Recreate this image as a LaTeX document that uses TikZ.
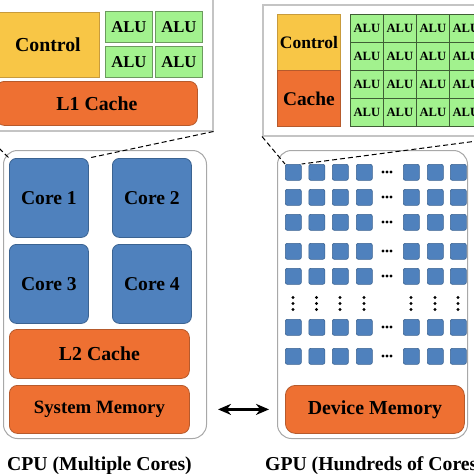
\documentclass[tikz,border=0pt]{standalone}
\usepackage{fontspec}
\setmainfont{Liberation Serif}
\usetikzlibrary{positioning,arrows.meta}

\definecolor{ctrlyellow}{HTML}{F8C646}
\definecolor{ctrledge}{HTML}{C89B3C}
\definecolor{cacheorange}{HTML}{EE7032}
\definecolor{cacheedge}{HTML}{B65A2C}
\definecolor{coreblue}{HTML}{4F81BD}
\definecolor{coreedge}{HTML}{3B6391}
\definecolor{alugreen}{HTML}{A2F28E}
\definecolor{aluedge}{HTML}{6C9A5E}
\definecolor{gridedge}{HTML}{3F5E35}
\definecolor{framegray}{HTML}{A8A8A8}
\definecolor{zoomgray}{HTML}{C4C4C4}

\begin{document}
\begin{tikzpicture}[x=1pt,y=-1pt,
  every node/.style={inner sep=0pt, anchor=north west, font=\bfseries},
  zoombox/.style={draw=zoomgray, line width=1.5pt, fill=white},
  chip/.style={draw=framegray, line width=1pt, fill=white, rounded corners=14pt},
  ctrl/.style={draw=ctrledge, line width=0.8pt, fill=ctrlyellow},
  cache/.style={draw=cacheedge, line width=0.8pt, fill=cacheorange},
  alu/.style={draw=aluedge, line width=0.8pt, fill=alugreen,
    minimum width=47, minimum height=31, font=\bfseries\fontsize{16.6}{17}\selectfont},
  gpualu/.style={draw=gridedge, line width=0.6pt, fill=alugreen,
    minimum width=33, minimum height=28, font=\bfseries\fontsize{12.6}{13}\selectfont},
  core/.style={draw=coreedge, line width=0.8pt, fill=coreblue, rounded corners=7pt,
    minimum width=79, minimum height=79, font=\bfseries\fontsize{19.6}{20}\selectfont},
  tinycore/.style={draw=coreedge, line width=0.6pt, fill=coreblue, rounded corners=2pt,
    minimum width=16, minimum height=16},
  zoomline/.style={dashed, dash pattern=on 5pt off 3pt, line width=1pt},
  dot/.style={fill=black, circle, minimum size=3.2pt, anchor=center},
  caption/.style={font=\bfseries\fontsize{19.7}{20}\selectfont, anchor=base}]

\useasboundingbox (0,0) rectangle (474,474);
\clip (0,0) rectangle (474,474);
\fill[white] (0,0) rectangle (474,474);

% CPU: zoomed core
\node[zoombox, minimum width=230, minimum height=150] (cpuzoom) at (-18,-20) {};
\node[ctrl, minimum width=103, minimum height=65, font=\bfseries\fontsize{19.8}{20}\selectfont]
  (cpuctrl) at (-4,12) {Control};
\foreach \r/\y in {1/11,2/46}
  \foreach \c/\x in {1/105,2/155}
    \node[alu] (cpualu-\r-\c) at (\x,\y) {ALU};
\node[cache, rounded corners=8pt, minimum width=201, minimum height=44,
  font=\bfseries\fontsize{19.8}{20}\selectfont] (l1) at (-4,81) {L1 Cache};

% CPU chip
\node[chip, minimum width=203, minimum height=288] (cpu) at (3,150) {};
\node[core] (core1) at (9,158) {Core 1};
\node[core] (core2) at (112,158) {Core 2};
\node[core] (core3) at (9,244) {Core 3};
\node[core] (core4) at (112,244) {Core 4};
\node[cache, rounded corners=8pt, minimum width=180, minimum height=49,
  font=\bfseries\fontsize{19.8}{20}\selectfont] (l2) at (9,329) {L2 Cache};
\node[cache, rounded corners=8pt, minimum width=180, minimum height=48,
  font=\bfseries\fontsize{18.8}{19}\selectfont] (sysmem) at (9,385) {System Memory};
\node[caption] (cpulabel) at (99.5,470) {CPU (Multiple Cores)};

\draw[zoomline] (cpuzoom.south west) -- (core1.north west);
\draw[zoomline] (cpuzoom.south east) -- (core1.north east);

% GPU: zoomed streaming multiprocessor
\node[zoombox, minimum width=248, minimum height=131] (gpuzoom) at (262,4) {};
\node[ctrl, minimum width=63, minimum height=56, font=\bfseries\fontsize{17.5}{18}\selectfont]
  (gpuctrl) at (277,14) {Control};
\node[cache, minimum width=63, minimum height=56, font=\bfseries\fontsize{19.4}{20}\selectfont]
  (gpucache) at (277,70) {Cache};
\foreach \r/\y in {1/14,2/42,3/70,4/98}
  \foreach \c/\x in {1/350,2/383,3/416,4/449}
    \node[gpualu] (gpualu-\r-\c) at (\x,\y) {ALU};

% GPU chip
\node[chip, minimum width=190, minimum height=288] (gpu) at (277,150) {};
\foreach \r/\y in {1/164,2/189,3/214,4/243,5/268,6/319,7/348} {
  \foreach \c/\x in {1/285,2/308.5,3/332,4/356,5/403,6/427,7/450}
    \node[tinycore] (gcore-\r-\c) at (\x,\y) {};
  \foreach \dx in {-4,0,4}
    \node[dot] at (387+\dx,\y+8) {};
}
\foreach \x in {285,308.5,332,356,403,427,450}
  \foreach \dy in {297.5,303.5,309.5}
    \node[dot] at (\x+8,\dy) {};
\node[cache, rounded corners=10pt, minimum width=179, minimum height=48,
  font=\bfseries\fontsize{19.9}{20}\selectfont] (devmem) at (285,385) {Device Memory};
\node[caption, anchor=base west] (gpulabel) at (265,470) {GPU (Hundreds of Cores)};

\draw[zoomline] (gpuzoom.south west) -- (gcore-1-1.north west);
\draw[zoomline] (gpuzoom.south east) -- (gcore-1-1.north east);

% host <-> device
\draw[line width=2.6pt, {Stealth[length=13pt,width=11pt]}-{Stealth[length=13pt,width=11pt]}]
  ([xshift=11pt]cpu.east |- sysmem.center) -- ([xshift=-8pt]gpu.west |- devmem.center);
\end{tikzpicture}
\end{document}
